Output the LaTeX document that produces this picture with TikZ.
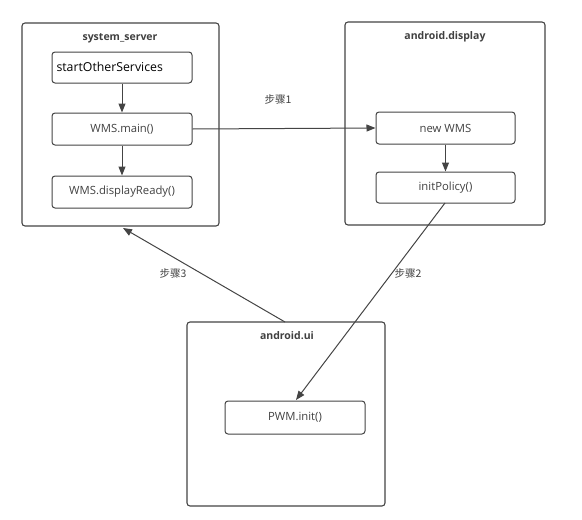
\documentclass[tikz,border=0pt]{standalone}
\usepackage{fontspec}
\setmainfont{Open Sans}
\newfontfamily\cjk{Noto Sans CJK SC}
\usetikzlibrary{arrows.meta}
\definecolor{ln}{HTML}{444444}
\definecolor{tx}{HTML}{404040}
\begin{document}
\begin{tikzpicture}[x=1pt,y=-1pt,
  grp/.style={draw=ln,line width=1.1pt,rounded corners=3pt},
  blk/.style={draw=ln,line width=1pt,rounded corners=3pt},
  ttl/.style={font=\fontsize{10.5}{12}\selectfont\bfseries,text=tx},
  lbl/.style={font=\fontsize{11.3}{13}\selectfont,text=tx},
  stp/.style={font=\cjk\fontsize{10.5}{12}\selectfont,text=tx},
  arr/.style={draw=ln,line width=1pt,-{Triangle[length=9pt,width=7pt]}}]
\useasboundingbox (0,0) rectangle (582,520);
% groups
\draw[grp] (22,23) rectangle (219,226);
\node[ttl] (t1) at (120,38) {system\_server};
\draw[grp] (345,22) rectangle (545,225);
\node[ttl] (t2) at (445,37) {android.display};
\draw[grp] (187,322) rectangle (385,506);
\node[ttl] (t3) at (287,336) {android.ui};
% blocks
\node[blk,minimum width=140pt,minimum height=31pt] (sos) at (122,67.5) {};
\node[font=\fontsize{12.3}{14}\selectfont,anchor=west] (sost) at (53,67) {startOtherServices};
\node[blk,lbl,minimum width=140pt,minimum height=32pt] (main) at (122,129) {WMS.main()};
\node[blk,lbl,minimum width=140pt,minimum height=32pt] (ready) at (122,192) {WMS.displayReady()};
\node[blk,lbl,minimum width=139pt,minimum height=32pt] (nw) at (445.5,128) {new WMS};
\node[blk,lbl,minimum width=139pt,minimum height=31pt] (ip) at (445.5,187.5) {initPolicy()};
\node[blk,lbl,minimum width=140pt,minimum height=33pt] (pwm) at (295,417.5) {PWM.init()};
\coordinate (s2a) at (445,203);
\coordinate (s2b) at (296,400);
\coordinate (s3a) at (285,322);
\coordinate (s3b) at (123,228);
% arrows
\draw[arr] (sos.south) -- (main.north);
\draw[arr] (main.south) -- (ready.north);
\draw[arr] (nw.south) -- (ip.north);
\draw[arr] (main.east) -- (nw.west);
\draw[arr] (s2a) -- (s2b);
\draw[arr] (s3a) -- (s3b);
% labels
\node[stp] (l1) at (278,99) {步骤1};
\node[stp] (l2) at (408,273) {步骤2};
\node[stp] (l3) at (173,273) {步骤3};
\end{tikzpicture}
\end{document}
